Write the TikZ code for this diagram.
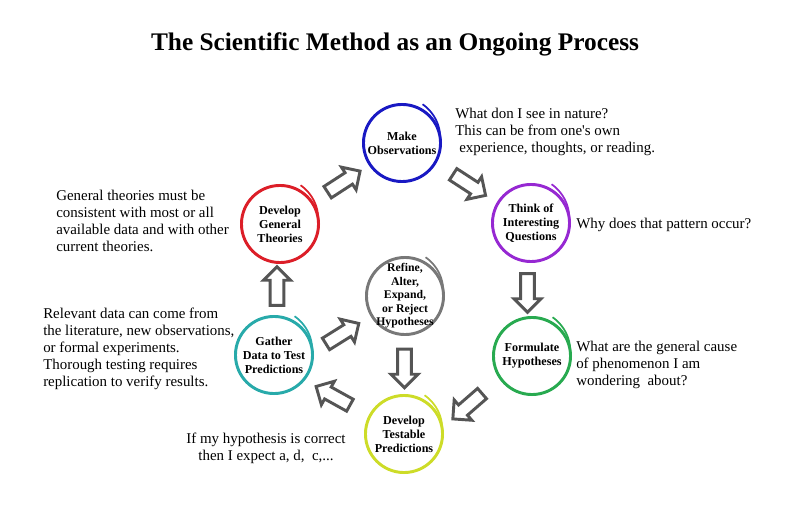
\documentclass[tikz,border=0pt]{standalone}
\usepackage{fontspec}
\setmainfont{Liberation Serif}
\usetikzlibrary{shapes.arrows,calc}

\definecolor{cobs}{RGB}{25,25,195}
\definecolor{cques}{RGB}{150,40,210}
\definecolor{cform}{RGB}{40,170,80}
\definecolor{cpred}{RGB}{205,220,40}
\definecolor{cgath}{RGB}{40,170,170}
\definecolor{ctheo}{RGB}{220,30,40}
\definecolor{cref}{RGB}{120,120,120}
\definecolor{arrowgray}{RGB}{85,85,85}

\begin{document}
\begin{tikzpicture}[x=0.75pt,y=-0.75pt]
\tikzstyle{stepnode} = [circle, draw, line width=2.2pt, minimum size=57.8pt, inner sep=0pt, align=center, font=\bfseries\fontsize{9.1}{10.6}\selectfont]
\tikzstyle{tail} = [line width=1.3pt]
\tikzstyle{blockarrow} = [single arrow, draw=arrowgray, line width=2.2pt, fill=white, minimum height=29pt, inner sep=4pt, single arrow head extend=5pt]
\tikzstyle{note} = [align=left, inner sep=0pt, font=\fontsize{11.2}{12.75}\selectfont]

\useasboundingbox (0,0) rectangle (800,516);

\node[font=\bfseries\fontsize{19}{23}\selectfont] (title) at (395,44) {The Scientific Method as an Ongoing Process};

% steps of the cycle
\node[stepnode, draw=cobs] (obs) at (402,143) {Make\\Observations};
\node[stepnode, draw=cques] (ques) at (531,223) {Think of\\Interesting\\Questions};
\node[stepnode, draw=cform] (form) at (532,356) {Formulate\\Hypotheses};
\node[stepnode, draw=cpred] (pred) at (404,434) {Develop\\Testable\\Predictions};
\node[stepnode, draw=cgath] (gath) at (274,355) {Gather\\Data to Test\\Predictions};
\node[stepnode, draw=ctheo] (theo) at (280,224) {Develop\\General\\Theories};
\node[stepnode, draw=cref, inner sep=-3.5pt, font=\bfseries\fontsize{8.8}{10.1}\selectfont] (ref) at (405,296) {Refine,\\Alter,\\Expand,\\or Reject\\Hypotheses};

% brush tails
\draw[tail, cobs, shift={(obs.center)}] plot[domain=8:62, samples=25, smooth] (\x:{(28.9+4*(\x-8)/54)*1pt});
\draw[tail, cques, shift={(ques.center)}] plot[domain=8:62, samples=25, smooth] (\x:{(28.9+4*(\x-8)/54)*1pt});
\draw[tail, cform, shift={(form.center)}] plot[domain=8:62, samples=25, smooth] (\x:{(28.9+4*(\x-8)/54)*1pt});
\draw[tail, cpred, shift={(pred.center)}] plot[domain=8:62, samples=25, smooth] (\x:{(28.9+4*(\x-8)/54)*1pt});
\draw[tail, cgath, shift={(gath.center)}] plot[domain=8:62, samples=25, smooth] (\x:{(28.9+4*(\x-8)/54)*1pt});
\draw[tail, ctheo, shift={(theo.center)}] plot[domain=8:62, samples=25, smooth] (\x:{(28.9+4*(\x-8)/54)*1pt});
\draw[tail, cref, shift={(ref.center)}] plot[domain=8:62, samples=25, smooth] (\x:{(28.9+4*(\x-8)/54)*1pt});

% block arrows between the steps
\node[blockarrow, rotate=33] (a1) at ($(theo)!0.5!(obs)$) {};
\node[blockarrow, rotate=-33] (a2) at ($(obs)!0.5!(ques)$) {};
\node[blockarrow, rotate=-90] (a3) at ($(ques)!0.5!(form)+(-4,0)$) {};
\node[blockarrow, rotate=-139] (a4) at ($(form)!0.5!(pred)+(2,9)$) {};
\node[blockarrow, rotate=151] (a5) at ($(pred)!0.5!(gath)+(-3,3)$) {};
\node[blockarrow, rotate=90] (a6) at ($(gath)!0.5!(theo)$) {};
\node[blockarrow, rotate=32] (a7) at ($(gath)!0.5!(ref)+(0,10)$) {};
\node[blockarrow, rotate=-90] (a8) at ($(ref)!0.5!(pred)$) {};

% notes
\node[note, anchor=west] (obsnote) at (455,132) {What don I see in nature?\\This can be from one\textquotesingle s own\\\hspace{3pt}experience, thoughts, or reading.};
\node[note, anchor=west] (quesnote) at (576,225) {Why does that pattern occur?};
\node[note, anchor=west] (formnote) at (576,365) {What are the general cause\\of phenomenon I am\\wondering\ \ about?};
\node[note, align=center] (prednote) at (266,448) {If my hypothesis is correct\\then I expect a, d,\ \ c,...};
\node[note, anchor=west] (gathnote) at (43,349) {Relevant data can come from\\the literature, new observations,\\or formal experiments.\\Thorough testing requires\\replication to verify results.};
\node[note, anchor=west] (theonote) at (56,221) {General theories must be\\consistent with most or all\\available data and with other\\current theories.};
\end{tikzpicture}
\end{document}
